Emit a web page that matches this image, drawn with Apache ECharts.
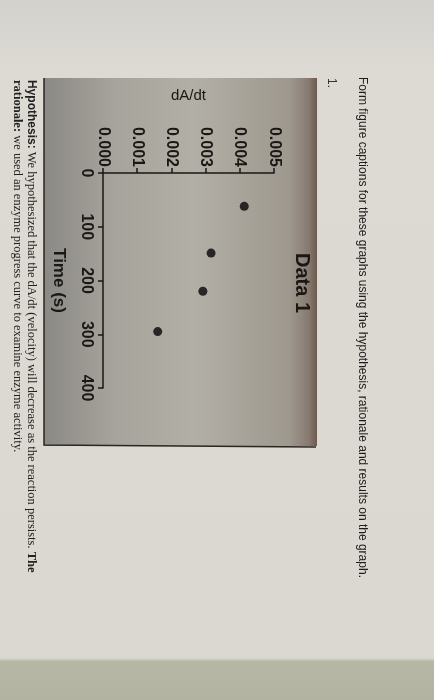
<!DOCTYPE html>
<html>
<head>
<meta charset="utf-8">
<script src="https://cdn.jsdelivr.net/npm/echarts@6/dist/echarts.min.js"></script>
<style>
  html, body { margin: 0; padding: 0; background: #dbd8d0; }
  #chart { width: 434px; height: 700px; }
</style>
</head>
<body>
<div id="chart"></div>
<script>
// photo of a screen held sideways: the whole page is turned 90deg clockwise
var times = [62, 149, 220, 295];                      // Time (s)
var rates = [0.00413, 0.00316, 0.00292, 0.00160];     // dA/dt
var rateTicks = [0, 0.001, 0.002, 0.003, 0.004, 0.005];
var timeTicks = [0, 100, 200, 300, 400];

var pageLine1 = 'Form figure captions for these graphs using the hypothesis, rationale and results on the graph.';
var hypoText = 'We hypothesized that the dA/dt (velocity) will decrease as the reaction persists.';
var rationaleText = 'we used an enzyme progress curve to examine enzyme activity.';

var chart = echarts.init(document.getElementById('chart'));

var points = [];
for (var i = 0; i < times.length; i++) {
    points.push([rates[i], times[i]]);
}

var ink = '#1a1714';
var down = -Math.PI / 2;

option = {
    animation: false,
    backgroundColor: {
        type: 'linear', x: 0, y: 0, x2: 0, y2: 1,
        colorStops: [
            { offset: 0, color: '#d3d1cc' },
            { offset: 0.1, color: '#dcdad3' },
            { offset: 0.94, color: '#dad8d0' },
            { offset: 0.945, color: '#b7b7a6' },
            { offset: 1, color: '#b3b3a2' }
        ]
    },
    graphic: [
        // grey panel behind the plot
        {
            type: 'rect', z: -10,
            shape: { x: 44, y: 78, width: 273, height: 368 },
            style: {
                fill: {
                    type: 'linear', x: 0, y: 0, x2: 1, y2: 0,
                    colorStops: [
                        { offset: 0, color: '#8b8985' },
                        { offset: 0.25, color: '#a6a39c' },
                        { offset: 0.55, color: '#b2afa6' },
                        { offset: 0.9, color: '#9e988e' },
                        { offset: 0.97, color: '#877a6f' },
                        { offset: 1, color: '#6c5a4f' }
                    ]
                }
            }
        },
        { type: 'polyline', z: -9, shape: { points: [[44, 78], [44, 445], [316, 447]] },
          style: { stroke: '#2a2622', lineWidth: 1.5, fill: null } },
        // chart title
        {
            type: 'text', x: 302, y: 283, rotation: down,
            style: { text: 'Data 1', fill: ink, font: 'bold 20px "Liberation Sans", Arial',
                     align: 'center', verticalAlign: 'middle' }
        },
        // page text round the chart
        {
            type: 'text', x: 362, y: 77, rotation: down,
            style: { text: pageLine1, fill: '#1c1c1c', font: '12px "Liberation Sans", Arial',
                     align: 'left', verticalAlign: 'middle' }
        },
        {
            type: 'text', x: 331, y: 78, rotation: down,
            style: { text: '1.', fill: '#333', font: '12px "Liberation Sans", Arial',
                     align: 'left', verticalAlign: 'middle' }
        },
        {
            type: 'text', x: 31, y: 80, rotation: down,
            style: {
                text: '{b|Hypothesis:} ' + hypoText + ' {c|The}',
                fill: '#222', font: '12.5px "Liberation Serif", serif',
                align: 'left', verticalAlign: 'middle',
                rich: {
                    b: { font: 'bold 12px "Liberation Sans", Arial', fill: '#222' },
                    c: { font: 'bold 12.5px "Liberation Serif", serif', fill: '#222' }
                }
            }
        },
        {
            type: 'text', x: 17, y: 80, rotation: down,
            style: {
                text: '{b|rationale:} ' + rationaleText,
                fill: '#222', font: '12.5px "Liberation Serif", serif',
                align: 'left', verticalAlign: 'middle',
                rich: { b: { font: 'bold 12.5px "Liberation Serif", serif', fill: '#222' } }
            }
        }
    ],
    grid: {
        left: 103,
        top: 173,
        width: 171,
        height: 215
    },
    xAxis: {
        type: 'value',
        position: 'top',
        min: rateTicks[0],
        max: rateTicks[rateTicks.length - 1],
        interval: 0.001,
        name: 'dA/dt',
        nameLocation: 'middle',
        nameGap: 70,
        nameTextStyle: { color: ink, fontSize: 15, fontFamily: 'Liberation Sans' },
        axisLine: { lineStyle: { color: ink, width: 1.5 } },
        axisTick: { length: 5, lineStyle: { color: ink, width: 1.5 } },
        axisLabel: {
            rotate: -90,
            margin: 6,
            color: ink,
            fontSize: 16,
            fontWeight: 'bold',
            fontFamily: 'Liberation Sans',
            formatter: function (v) { return v.toFixed(3); }
        },
        splitLine: { show: false }
    },
    yAxis: {
        type: 'value',
        position: 'left',
        inverse: true,
        min: timeTicks[0],
        max: timeTicks[timeTicks.length - 1],
        interval: 100,
        name: 'Time (s)',
        nameLocation: 'middle',
        nameGap: 36,
        nameRotate: -90,
        nameTextStyle: { color: ink, fontSize: 17, fontWeight: 'bold', fontFamily: 'Liberation Sans' },
        axisLine: { lineStyle: { color: ink, width: 1.5 } },
        axisTick: { length: 5, lineStyle: { color: ink, width: 1.5 } },
        axisLabel: {
            rotate: -90,
            margin: 9,
            color: ink,
            fontSize: 16,
            fontWeight: 'bold',
            fontFamily: 'Liberation Sans'
        },
        splitLine: { show: false }
    },
    series: [{
        name: 'Data 1',
        type: 'scatter',
        symbol: 'circle',
        symbolSize: 9,
        itemStyle: { color: '#050505' },
        data: points
    }]
};

chart.setOption(option);
</script>
</body>
</html>
